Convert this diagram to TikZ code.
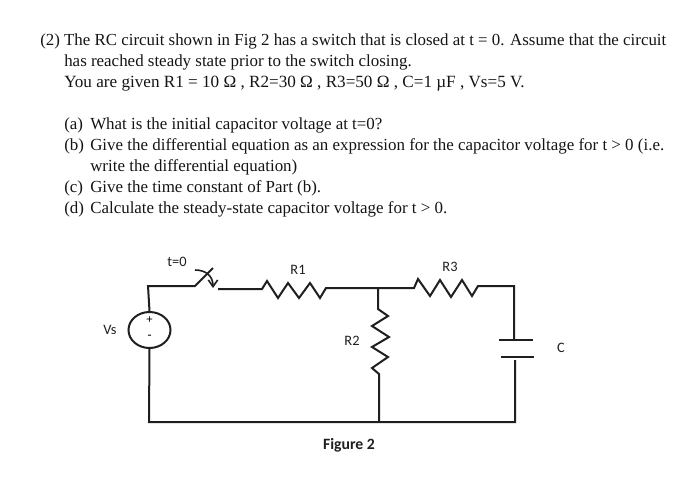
\documentclass[tikz,border=0pt]{standalone}
\usepackage{fontspec}
\setmainfont{Liberation Serif}
\newfontfamily\labelfont{Carlito}
\usetikzlibrary{arrows.meta,shapes.geometric}
\newcommand{\qlab}[1]{\makebox[19.5pt][l]{#1}}
\tikzset{
 txt/.style={anchor=base west,inner sep=0pt,font=\fontsize{12.7pt}{14pt}\selectfont,text=black!92},
 lab/.style={inner sep=0pt,font=\labelfont\fontsize{10.8pt}{12pt}\selectfont,text=black!88},
 wire/.style={line width=1.5pt,black!88,line join=miter},
}
\begin{document}
\begin{tikzpicture}[x=0.75pt,y=-0.75pt]
\useasboundingbox (0,0) rectangle (700,480);
% text
\node[txt,font=\fontsize{12.66pt}{14pt}\selectfont] (l1) at (40,45) {(2) The RC circuit shown in Fig 2 has a switch that is closed at t = 0. Assume that the circuit};
\node[txt] (l2) at (64,66) {has reached steady state prior to the switch closing.};
\node[txt,font=\fontsize{12.85pt}{14pt}\selectfont] (l3) at (64,87) {You are given R1 = 10 Ω , R2=30 Ω , R3=50 Ω , C=1 µF , Vs=5 V.};
\node[txt] (qa) at (64,129) {\qlab{(a)}What is the initial capacitor voltage at t=0?};
\node[txt] (qb) at (64,150) {\qlab{(b)}Give the differential equation as an expression for the capacitor voltage for t > 0 (i.e.};
\node[txt] (qb2) at (90,171) {write the differential equation)};
\node[txt] (qc) at (64,192) {\qlab{(c)}Give the time constant of Part (b).};
\node[txt] (qd) at (64,213) {\qlab{(d)}Calculate the steady-state capacitor voltage for t > 0.};
% labels
\node[lab] (t0) at (177,262) {t=0};
\node[lab] (lr1) at (298,270) {R1};
\node[lab] (lr3) at (450,267) {R3};
\node[lab] (lvs) at (110,330) {Vs};
\node[lab] (lr2) at (352,341) {R2};
\node[lab] (lc) at (561,348) {C};
\node[lab,font=\labelfont\bfseries\fontsize{11.8pt}{13pt}\selectfont] (fig) at (349,445) {Figure 2};
% source
\node[ellipse,draw,wire,minimum width=31.5pt,minimum height=27pt,inner sep=0pt] (vs) at (149.5,330) {};
\node[inner sep=0pt,font=\fontsize{9pt}{9pt}\selectfont\bfseries] (plus) at (149.5,320) {+};
\node[inner sep=0pt,font=\fontsize{9pt}{9pt}\selectfont\bfseries] (minus) at (149.5,337) {-};
% corners
\coordinate (tl) at (148,286);
\coordinate (swa) at (195,286);
\coordinate (swb) at (213,268);
\coordinate (swc) at (218,289);
\coordinate (r1a) at (262,289);
\coordinate (r1b) at (326,288);
\coordinate (j) at (378,288);
\coordinate (r3a) at (414,288);
\coordinate (r3b) at (478,286);
\coordinate (tr) at (514,286);
\coordinate (capt) at (514,340);
\coordinate (capb) at (515,360);
\coordinate (br) at (515,422);
\coordinate (bj) at (379,422);
\coordinate (bl) at (149,422);
\coordinate (r2a) at (378,309);
\coordinate (r2b) at (379,374);
% wires
\draw[wire] (vs.north) -- (tl) -- (swa) -- (swb);
\draw[wire] (vs.south) -- (bl) -- (bj) -- (br) -- (capb);
\draw[wire] (swc) -- (r1a) -- (267,281) -- (278,298) -- (288,283) -- (299,298) -- (310,283) -- (320,298) -- (r1b) -- (j) -- (r3a) -- (418,279) -- (430,296) -- (440,280) -- (451,297) -- (462,280) -- (472,296) -- (r3b) -- (tr) -- (capt);
\draw[wire] (j) -- (r2a) -- (388,316) -- (372,326) -- (389,337) -- (372,347) -- (388,357) -- (372,368) -- (r2b) -- (bj);
% switch arrow
\draw[wire,line width=1.2pt,-{Straight Barb[length=5pt,width=7pt]}] (195,270) .. controls (206,270) and (213,276) .. (213,288);
% capacitor
\coordinate (p1a) at (499,340); \coordinate (p1b) at (533,340);
\coordinate (p2a) at (501,357); \coordinate (p2b) at (534,357);
\draw[wire] (p1a) -- (p1b);
\draw[wire] (p2a) -- (p2b);
\end{tikzpicture}
\end{document}
